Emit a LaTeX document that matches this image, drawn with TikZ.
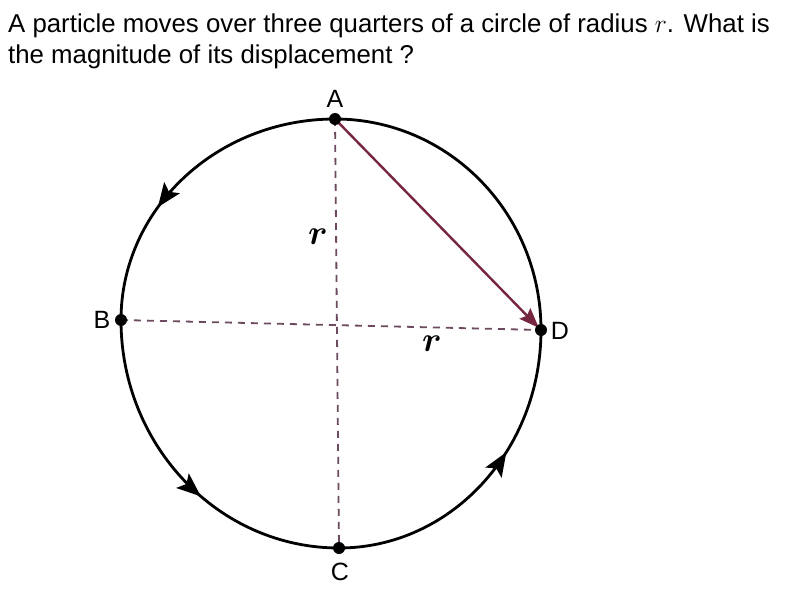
\documentclass[tikz,border=0pt]{standalone}
\usepackage{fix-cm}
\usepackage{fontspec}
\setmainfont{Liberation Sans}
\usetikzlibrary{arrows.meta,decorations.markings}
\definecolor{maroon}{HTML}{76263F}
\definecolor{dashc}{HTML}{6E4A60}
\tikzset{
  dot/.style={circle,fill=black,inner sep=0pt,minimum size=12pt},
  lbl/.style={font=\fontsize{25}{25}\selectfont},
  rlbl/.style={font=\fontsize{20}{20}\selectfont\boldmath,scale=1.75},
  qtext/.style={anchor=base west,inner sep=0pt,font=\fontsize{25.8}{28}\selectfont},
  dline/.style={dashc,line width=1.8pt,dash pattern=on 7pt off 6pt},
  circ/.style={line width=2.8pt,black},
  marc/.style={circ,postaction={decorate},decoration={markings,mark=at position #1 with {\arrow{Stealth[length=24pt,width=19pt,inset=5pt]}}}}
}
\begin{document}
\begin{tikzpicture}[x=1pt,y=-1pt]
\useasboundingbox (0,0) rectangle (800,612);
\fill[white] (0,0) rectangle (800,612);
\node[qtext] (q1) at (8,33) {A particle moves over three quarters of a circle of radius $r$. What is};
\node[qtext] (q2) at (8,64) {the magnitude of its displacement ?};
\coordinate (Ac) at (335,119);
\coordinate (Bc) at (121,320);
\coordinate (Cc) at (339,548);
\coordinate (Dc) at (541,330);
\draw[dline] (Bc) -- (Dc);
\draw[dline] (Ac) -- (Cc);
\draw[marc=0.63] (Ac) .. controls (216.8,119) and (121,209) .. (Bc);
\draw[marc=0.57] (Bc) .. controls (121,445.9) and (218.6,548) .. (Cc);
\draw[marc=0.61] (Cc) .. controls (450.6,548) and (541,450.4) .. (Dc);
\draw[circ] (Dc) .. controls (541,213.5) and (448.8,119) .. (Ac);
\draw[maroon,line width=2.4pt,-{Stealth[length=20pt,width=15pt,inset=3pt]},shorten >=3pt] (Ac) -- (Dc);
\node[dot] (A) at (Ac) {};
\node[dot] (B) at (Bc) {};
\node[dot] (C) at (Cc) {};
\node[dot] (D) at (Dc) {};
\node[lbl] (LA) at (335,99) {A};
\node[lbl] (LB) at (102,320) {B};
\node[lbl] (LD) at (560,331) {D};
\node[lbl] (LC) at (340,572) {C};
\node[rlbl] (r1) at (318,237) {$r$};
\node[rlbl] (r2) at (432,344) {$r$};
\end{tikzpicture}
\end{document}
